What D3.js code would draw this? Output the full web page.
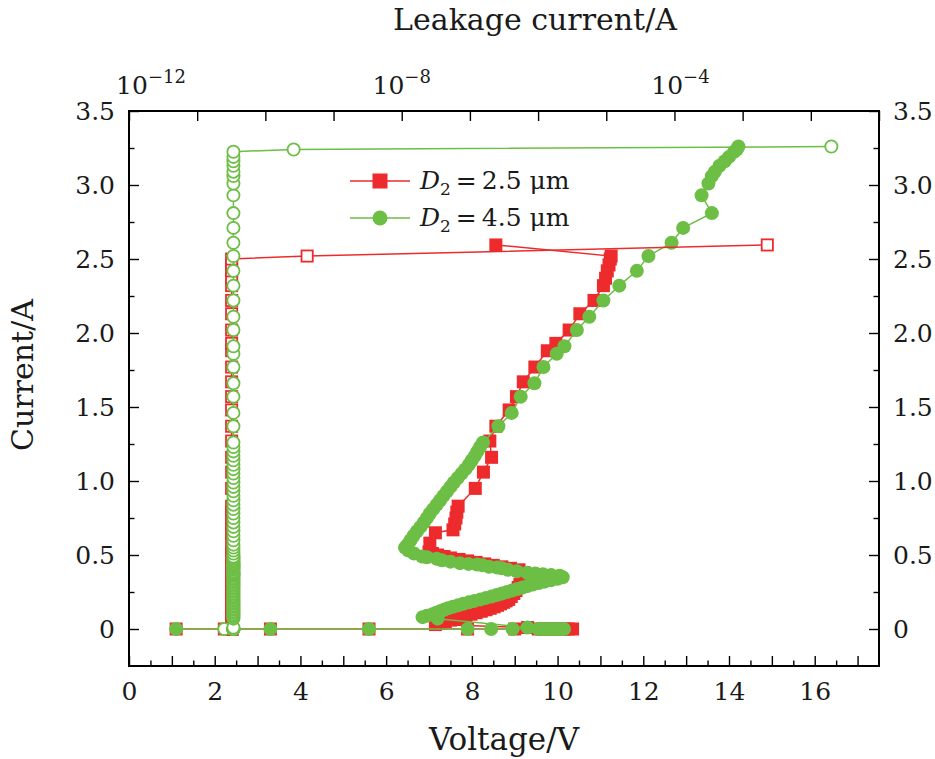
<!DOCTYPE html>
<html><head><meta charset="utf-8">
<script src="https://cdn.jsdelivr.net/npm/d3@7/dist/d3.min.js"></script>
<style>html,body{margin:0;padding:0;background:#fff;} svg{display:block;}</style>
</head><body>
<svg id="chart" width="935" height="759"></svg>
<script>
// ---------------- DATA ----------------
// D2 = 4.5 um (green): current (A), voltage (V), leakage current (A)
const greenCurrent = [
  0,0,0,0,0,0,0,0,0,0,0,0,0,0.01,
  0.07,0.08,0.09,0.10,0.11,0.12,0.13,0.14,0.15,0.16,0.17,0.18,0.19,0.20,0.21,0.22,0.23,0.24,0.25,0.26,0.27,0.28,0.29,0.30,0.31,0.32,0.33,0.34,0.35,
  0.36,0.365,0.37,0.375,0.38,0.39,0.40,0.41,0.415,0.42,0.43,0.435,0.44,0.445,0.455,0.465,0.475,0.485,0.49,0.51,0.53,0.55,
  0.57,0.60,0.63,0.66,0.69,0.72,0.75,0.78,0.81,0.84,0.87,0.90,0.93,0.96,0.99,1.02,1.05,1.08,1.11,1.14,1.17,1.20,1.23,1.26,
  1.37,1.46,1.57,1.66,1.77,1.86,1.91,2.02,2.11,2.22,2.32,2.42,2.52,2.61,2.71,2.81,2.93,3.01,3.06,3.09,3.13,3.16,3.19,3.225,3.24,3.26
];
const greenVoltage = [
  1.1,3.3,5.6,7.9,8.45,8.95,9.55,9.65,9.75,9.85,9.95,10.05,10.15,9.3,
  7.20,6.85,6.95,7.08,7.17,7.26,7.35,7.44,7.56,7.68,7.80,7.93,8.06,8.20,8.33,8.46,8.58,8.70,8.82,8.94,9.06,9.18,9.30,9.42,9.56,9.70,9.85,10.00,10.12,
  10.05,9.85,9.66,9.48,9.29,9.05,8.84,8.70,8.59,8.40,8.25,8.12,7.92,7.72,7.50,7.30,7.18,6.95,6.84,6.65,6.52,6.44,
  6.50,6.57,6.64,6.72,6.80,6.88,6.95,7.02,7.10,7.18,7.26,7.34,7.42,7.50,7.58,7.67,7.76,7.85,7.93,8.00,8.07,8.13,8.19,8.26,
  8.62,8.93,9.14,9.46,9.67,9.98,10.16,10.45,10.74,11.07,11.44,11.85,12.12,12.66,12.93,13.60,13.36,13.52,13.60,13.67,13.78,13.90,14.00,14.12,14.18,14.22
];
const greenLeakage = [
  2.5e-11,
  3.4e-11,3.4e-11,3.4e-11,3.4e-11,3.4e-11,3.4e-11,3.4e-11,3.4e-11,3.4e-11,3.4e-11,3.4e-11,3.4e-11,3.4e-11,3.4e-11,
  3.4e-11,3.4e-11,3.4e-11,3.4e-11,3.4e-11,3.4e-11,3.4e-11,3.4e-11,3.4e-11,3.4e-11,3.4e-11,3.4e-11,3.4e-11,3.4e-11,
  3.4e-11,3.4e-11,3.4e-11,3.4e-11,3.4e-11,3.4e-11,3.4e-11,3.4e-11,3.4e-11,3.4e-11,3.4e-11,3.4e-11,3.4e-11,3.4e-11,
  3.4e-11,3.4e-11,3.4e-11,3.4e-11,3.4e-11,3.4e-11,3.4e-11,3.4e-11,3.4e-11,3.4e-11,3.4e-11,3.4e-11,3.4e-11,3.4e-11,
  3.4e-11,3.4e-11,3.4e-11,3.4e-11,3.4e-11,3.4e-11,3.4e-11,3.4e-11,3.4e-11,3.4e-11,3.4e-11,3.4e-11,3.4e-11,3.4e-11,
  3.4e-11,3.4e-11,3.4e-11,3.4e-11,3.4e-11,3.4e-11,3.4e-11,3.4e-11,3.4e-11,3.4e-11,3.4e-11,3.4e-11,3.4e-11,3.4e-11,
  3.4e-11,3.4e-11,3.4e-11,3.4e-11,3.4e-11,3.4e-11,3.4e-11,3.4e-11,3.4e-11,3.4e-11,3.4e-11,3.4e-11,3.4e-11,3.4e-11,
  3.4e-11,3.4e-11,3.4e-11,3.4e-11,3.4e-11,3.4e-11,3.4e-11,3.4e-11,3.4e-11,3.4e-11,3.4e-11,3.4e-11,3.4e-11,3.4e-11,
  2.6e-10,2.0e-2
];

// D2 = 2.5 um (red)
const redCurrent = [
  0,0,0,0,0,0,0,0,0,0,0,0,0,0,0.01,
  0.03,0.04,0.05,0.06,0.07,0.08,0.09,0.10,0.11,0.12,0.13,0.14,0.15,0.16,0.17,0.18,0.19,0.20,0.22,0.24,0.26,0.28,0.30,0.32,0.34,0.36,0.38,
  0.40,0.41,0.42,0.43,0.44,0.45,0.46,0.47,0.48,0.49,0.50,0.51,0.52,
  0.58,0.65,0.67,0.71,0.75,0.79,0.83,0.95,1.06,1.16,1.27,1.37,1.48,1.57,1.67,1.77,1.88,1.93,2.02,2.13,2.22,2.32,2.37,2.42,2.46,2.50,2.52,2.595
];
const redVoltage = [
  1.1,3.3,5.6,7.9,9.0,9.55,9.65,9.75,9.85,9.95,10.05,10.15,10.25,10.35,9.3,
  7.15,7.25,7.38,7.50,7.62,7.74,7.86,7.98,8.10,8.22,8.33,8.43,8.52,8.60,8.67,8.74,8.80,8.86,8.92,8.98,9.03,9.08,9.12,9.16,9.19,9.21,9.22,
  9.10,8.90,8.70,8.50,8.30,8.10,7.90,7.70,7.50,7.35,7.20,7.08,7.00,
  7.02,7.15,7.56,7.60,7.63,7.65,7.68,8.08,8.27,8.46,8.42,8.56,8.87,9.04,9.20,9.47,9.76,9.96,10.27,10.52,10.85,11.07,11.12,11.16,11.20,11.23,11.25,8.56
];
const redLeakage = [
  2.5e-11,
  3.2e-11,3.2e-11,3.2e-11,3.2e-11,3.2e-11,3.2e-11,3.2e-11,3.2e-11,3.2e-11,3.2e-11,
  3.2e-11,3.2e-11,3.2e-11,3.2e-11,3.2e-11,3.2e-11,3.2e-11,3.2e-11,3.2e-11,3.2e-11,
  3.2e-11,3.2e-11,3.2e-11,3.2e-11,3.2e-11,3.2e-11,3.2e-11,3.2e-11,3.2e-11,3.2e-11,
  3.2e-11,3.2e-11,3.2e-11,3.2e-11,3.2e-11,3.2e-11,3.2e-11,3.2e-11,3.2e-11,3.2e-11,
  3.2e-11,3.2e-11,3.2e-11,3.2e-11,3.2e-11,3.2e-11,3.2e-11,3.2e-11,3.2e-11,3.2e-11,
  3.2e-11,3.2e-11,3.2e-11,3.2e-11,3.2e-11,3.2e-11,3.2e-11,3.2e-11,3.2e-11,3.2e-11,
  3.2e-11,3.2e-11,3.2e-11,3.2e-11,3.2e-11,3.2e-11,3.2e-11,3.2e-11,3.2e-11,3.2e-11,
  3.2e-11,3.2e-11,3.2e-11,3.2e-11,3.2e-11,3.2e-11,3.2e-11,3.2e-11,3.2e-11,3.2e-11,
  4.1e-10,2.3e-3
];

// Axis ticks / labels
const bottomMajorTicks = [0,1,2,3,4,5,6,7,8,9,10,11,12,13,14,15,16,17];
const bottomMinorTicks = [0.5,1.5,2.5,3.5,4.5,5.5,6.5,7.5,8.5,9.5,10.5,11.5,12.5,13.5,14.5,15.5,16.5];
const bottomLabels = [0,2,4,6,8,10,12,14,16];
const leftMajorTicks = [0,0.5,1.0,1.5,2.0,2.5,3.0,3.5];
const leftMinorTicks = [0.25,0.75,1.25,1.75,2.25,2.75,3.25];
const topLabelValues = [1e-12,1e-8,1e-4];
const topLabelExponents = ["\u221212","\u22128","\u22124"];
const legendNames = ["2.5","4.5"];

// ---------------- CHART ----------------
const svg = d3.select("#chart");
const L=129, R=879, T=111, B=666;
const x = d3.scaleLinear().domain([0,17.5]).range([L,R]);
const y = d3.scaleLinear().domain([-0.25,3.5]).range([B,T]);
const xTop = d3.scaleLog().domain([1e-12,1e-1]).range([L,R]);
const FONT = "'DejaVu Serif', serif";
const RED = "#ED2B2C", GREEN = "#6DBE45";

function styleAxis(g){
  g.select(".domain").remove();
  g.selectAll(".tick line").attr("stroke","#000").attr("stroke-width",1.4);
  g.selectAll("text").attr("font-family",FONT).attr("font-size",25).attr("fill","#1a1a1a");
}
const yFmt = d => d===0 ? "0" : d3.format(".1f")(d);

// bottom
svg.append("g").attr("transform",`translate(0,${B})`)
  .call(d3.axisBottom(x).tickValues(bottomMinorTicks).tickSizeInner(-5.5).tickSizeOuter(0).tickFormat(""))
  .call(styleAxis);
svg.append("g").attr("transform",`translate(0,${B})`)
  .call(d3.axisBottom(x).tickValues(bottomMajorTicks).tickSizeInner(-10).tickSizeOuter(0).tickPadding(16)
    .tickFormat(d => bottomLabels.includes(d) ? String(d) : ""))
  .call(styleAxis);
// left
svg.append("g").attr("transform",`translate(${L},0)`)
  .call(d3.axisLeft(y).tickValues(leftMinorTicks).tickSizeInner(-5.5).tickSizeOuter(0).tickFormat(""))
  .call(styleAxis);
svg.append("g").attr("transform",`translate(${L},0)`)
  .call(d3.axisLeft(y).tickValues(leftMajorTicks).tickSizeInner(-10).tickSizeOuter(0).tickPadding(14).tickFormat(yFmt))
  .call(styleAxis);
// right
svg.append("g").attr("transform",`translate(${R},0)`)
  .call(d3.axisRight(y).tickValues(leftMinorTicks).tickSizeInner(-5.5).tickSizeOuter(0).tickFormat(""))
  .call(styleAxis);
svg.append("g").attr("transform",`translate(${R},0)`)
  .call(d3.axisRight(y).tickValues(leftMajorTicks).tickSizeInner(-10).tickSizeOuter(0).tickPadding(14).tickFormat(yFmt))
  .call(styleAxis);
// top (log)
const allTop = xTop.ticks();
const topMajor = allTop.filter(v => Math.abs(Math.log10(v) - Math.round(Math.log10(v))) < 1e-9);
const topMinor = allTop.filter(v => !topMajor.includes(v));
svg.append("g").attr("transform",`translate(0,${T})`)
  .call(d3.axisTop(xTop).tickValues(topMinor).tickSizeInner(-5.5).tickSizeOuter(0).tickFormat(""))
  .call(styleAxis);
svg.append("g").attr("transform",`translate(0,${T})`)
  .call(d3.axisTop(xTop).tickValues(topMajor).tickSizeInner(-10).tickSizeOuter(0).tickFormat(""))
  .call(styleAxis);
const topLabelShift = [22, 0, 6];
topLabelValues.forEach((v,i) => {
  const t = svg.append("text").attr("x", xTop(v) + topLabelShift[i]).attr("y", 94)
    .attr("text-anchor","middle").attr("font-family",FONT).attr("fill","#1a1a1a");
  t.append("tspan").attr("font-size",25).text("10");
  t.append("tspan").attr("font-size",18).attr("dy",-11).text(topLabelExponents[i]);
});

// frame
svg.append("rect").attr("x",L).attr("y",T).attr("width",R-L).attr("height",B-T)
  .attr("fill","none").attr("stroke","#000").attr("stroke-width",2);

// titles
svg.append("text").attr("x",535).attr("y",30).attr("text-anchor","middle")
  .attr("font-family",FONT).attr("font-size",30).attr("fill","#1a1a1a").text("Leakage current/A");
svg.append("text").attr("x",(L+R)/2).attr("y",750).attr("text-anchor","middle")
  .attr("font-family",FONT).attr("font-size",31).attr("fill","#1a1a1a").text("Voltage/V");
svg.append("text").attr("transform","translate(33,375) rotate(-90)").attr("text-anchor","middle")
  .attr("font-family",FONT).attr("font-size",30).attr("fill","#1a1a1a").text("Current/A");

// series
const zip = (I,V) => I.map((c,k)=>({i:c, v:V[k]})).filter(d => d.v!==undefined);
const redIV = zip(redCurrent, redVoltage);
const greenIV = zip(greenCurrent, greenVoltage);
const redIL = zip(redCurrent, redLeakage);
const greenIL = zip(greenCurrent, greenLeakage);

const lineV = d3.line().x(d=>x(d.v)).y(d=>y(d.i));
const lineL = d3.line().x(d=>xTop(d.v)).y(d=>y(d.i));
const SQ = 13, CR = 7;

function drawSquares(data, sx, filled){
  const g = svg.append("g");
  g.selectAll("rect").data(data).join("rect")
    .attr("x", d=>sx(d.v)-SQ/2 + (filled?0:0.9)).attr("y", d=>y(d.i)-SQ/2 + (filled?0:0.9))
    .attr("width", filled?SQ:SQ-1.8).attr("height", filled?SQ:SQ-1.8)
    .attr("fill", filled?RED:"#fff").attr("stroke", filled?"none":RED).attr("stroke-width",1.8);
}
function drawCircles(data, sx, filled){
  const g = svg.append("g");
  g.selectAll("circle").data(data).join("circle")
    .attr("cx", d=>sx(d.v)).attr("cy", d=>y(d.i)).attr("r", filled?CR:CR-0.9)
    .attr("fill", filled?GREEN:"#fff").attr("stroke", filled?"none":GREEN).attr("stroke-width",1.8);
}

// filled I-V curves
svg.append("path").datum(redIV).attr("d",lineV).attr("fill","none").attr("stroke",RED).attr("stroke-width",1.5);
drawSquares(redIV, x, true);
svg.append("path").datum(greenIV).attr("d",lineV).attr("fill","none").attr("stroke",GREEN).attr("stroke-width",1.5);
drawCircles(greenIV, x, true);
// open leakage curves
svg.append("path").datum(redIL).attr("d",lineL).attr("fill","none").attr("stroke",RED).attr("stroke-width",1.5);
drawSquares(redIL, xTop, false);
svg.append("path").datum(greenIL).attr("d",lineL).attr("fill","none").attr("stroke",GREEN).attr("stroke-width",1.5);
drawCircles(greenIL, xTop, false);

// legend
const legY = [181, 218];
const legColors = [RED, GREEN];
legendNames.forEach((nm,k) => {
  svg.append("line").attr("x1",350).attr("x2",410).attr("y1",legY[k]).attr("y2",legY[k])
    .attr("stroke",legColors[k]).attr("stroke-width",1.5);
  if(k===0){
    svg.append("rect").attr("x",380-7.5).attr("y",legY[k]-7.5).attr("width",15).attr("height",15).attr("fill",RED);
  } else {
    svg.append("circle").attr("cx",380).attr("cy",legY[k]).attr("r",7.5).attr("fill",GREEN);
  }
  const t = svg.append("text").attr("x",420).attr("y",legY[k]+8).attr("font-family",FONT)
    .attr("font-size",25).attr("fill","#1a1a1a");
  t.append("tspan").attr("font-style","italic").text("D");
  t.append("tspan").attr("font-size",17).attr("dy",6).text("2");
  t.append("tspan").attr("dy",-6).text("\u2009=\u2009" + nm + " \u03bcm");
});
</script>
</body></html>
